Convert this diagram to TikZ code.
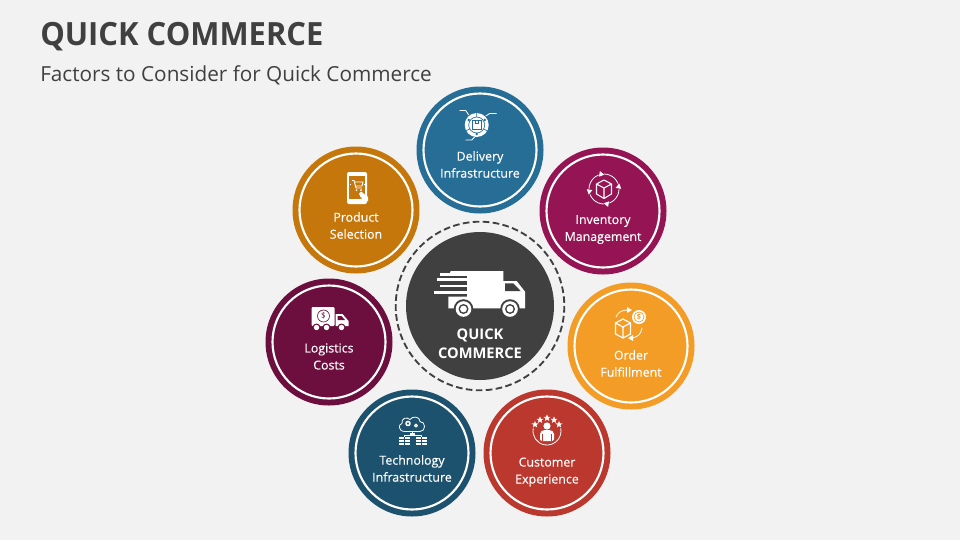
\documentclass[tikz,border=0pt]{standalone}
\usepackage{fontspec}
\setmainfont{Open Sans}
\newfontfamily\labfont[FakeBold=0.25]{Open Sans}
\newfontfamily\titlefont[FakeStretch=0.966]{Open Sans}
\usetikzlibrary{shapes.geometric}
\definecolor{bgc}{HTML}{F2F2F2}
\definecolor{dark}{HTML}{404040}
\definecolor{cdel}{HTML}{266E96}
\definecolor{cinv}{HTML}{951554}
\definecolor{cord}{HTML}{F39C26}
\definecolor{ccus}{HTML}{BA382D}
\definecolor{ctec}{HTML}{1D526F}
\definecolor{clog}{HTML}{6C0F3F}
\definecolor{cpro}{HTML}{C5770B}
\tikzset{
  x=0.75pt,y=-0.75pt,
  lab/.style={text=white,align=center,font=\fontsize{9.3pt}{12.75pt}\labfont,inner sep=0pt},
  ico/.style={draw=white,line width=0.75pt,line cap=round,line join=round},
  star5/.style={star,star points=5,star point ratio=2.4,fill=white,draw=none,minimum size=5.5pt,inner sep=0pt}
}
\newcommand{\disc}[3]{%
  \fill[#3] (#1,#2) circle (63.5);
  \draw[white,line width=1.6pt] (#1,#2) circle (56.5);}
\begin{document}
\begin{tikzpicture}
\useasboundingbox (0,0) rectangle (960,540);
\fill[bgc] (0,0) rectangle (960,540);
\node[anchor=west,text=dark,inner sep=0pt,font=\fontsize{24pt}{30pt}\titlefont\bfseries] (title) at (40,37) {QUICK COMMERCE};
\node[anchor=west,text=dark,inner sep=0pt,font=\fontsize{15.55pt}{18pt}\selectfont] (subtitle) at (40,75.5) {Factors to Consider for Quick Commerce};
% centre
\draw[dark,line width=1.4pt,dash pattern=on 5pt off 2.5pt] (480,306) circle (84.3);
\fill[dark] (480,306) circle (74);
% discs
\disc{480}{150}{cdel}
\disc{603}{211}{cinv}
\disc{631}{346}{cord}
\disc{547}{453}{ccus}
\disc{412}{453}{ctec}
\disc{329}{342}{clog}
\disc{356}{210}{cpro}
% labels
\node[lab] (ldel) at (480,164.5) {Delivery\\Infrastructure};
\node[lab] (linv) at (603,229.5) {Inventory\\Management};
\node[lab] (lord) at (631,363.5) {Order\\Fulfillment};
\node[lab] (lcus) at (547,472) {Customer\\Experience};
\node[lab] (ltec) at (412,468.5) {Technology\\Infrastructure};
\node[lab] (llog) at (329,356.5) {Logistics\\Costs};
\node[lab] (lpro) at (356,225.5) {Product\\Selection};
\node[lab,font=\fontsize{11pt}{14.2pt}\selectfont\bfseries] (lcen) at (480,344) {QUICK\\COMMERCE};
% central truck
\fill[white] (450.7,271) -- (503.3,271) -- (503.3,281) -- (516.7,281) -- (525,291.7) -- (525,308.3) -- (448.3,308.3) -- (448.3,296.7) -- (467,296.7) -- (467,273) -- (450,273) -- cycle;
\foreach \xa/\ya/\xb in {440/274.6/468, 436.7/279.5/468, 440/286/468, 434/292.5/468}
  {\draw[white,line width=2pt] (\xa,\ya) -- (\xb,\ya);}
\fill[dark] (505,283.3) -- (513.3,283.3) -- (520.7,291) -- (505,291) -- cycle;
\foreach \wx in {463.5,510}{
  \fill[dark] (\wx,309) circle (9.8);
  \fill[white] (\wx,309) circle (7.8);
  \fill[dark] (\wx,309) circle (5);
  \fill[white] (\wx,309) circle (3.4);}
% delivery icon
\begin{scope}[shift={(476.7,125)}]
  \fill[white] (0,0) circle (12);
  \draw[cdel,line width=0.5pt] (0,0) circle (8);
  \draw[cdel,line width=0.5pt] (0,-12)--(0,-8) (-11,6)--(-7,4) (11,6)--(7,4);
  \fill[white,draw=cdel,line width=0.5pt] (-4.5,-5) rectangle (4.5,4.5);
  \draw[cdel,line width=0.5pt] (-1.8,-5) -- (-1.8,-1.5) -- (1.8,-1.5) -- (1.8,-5);
  \foreach \p in {(8,-5),(-8,-5),(0,9)} {\fill[cdel] \p circle (1.3);}
  \draw[white,line width=0.6pt] (-8,-10) -- (-11,-14.5) -- (-17,-14.5);
  \draw[white,line width=0.6pt] (9,-9) -- (13,-11.5) -- (20,-11.5);
  \draw[white,line width=0.6pt] (-2,12) -- (-5,15) -- (-11,15);
\end{scope}
% inventory icon
\begin{scope}[shift={(604,189)}]
  \draw[ico,line width=0.6pt] (0,0) circle (15);
  \foreach \a in {80,170,260,350}{
    \fill[cinv] (\a:15) circle (3);
    \begin{scope}[shift={(\a:15)},rotate=\a+90]
      \fill[white] (3,0) -- (-2,2.8) -- (-2,-2.8) -- cycle;
    \end{scope}}
  \draw[ico,line width=0.8pt] (-7.5,-5) -- (0,-9) -- (7.5,-5) -- (7.5,5) -- (0,9.5) -- (-7.5,5) -- cycle (-7.5,-5) -- (0,-1) -- (7.5,-5) (0,-1) -- (0,9.5);
\end{scope}
% order icon
\begin{scope}[shift={(623,328)}]
  \draw[ico,line width=0.9pt] (-7.5,-5) -- (0,-9) -- (7.5,-5) -- (7.5,6) -- (0,10) -- (-7.5,6) -- cycle (-7.5,-5) -- (0,-1) -- (7.5,-5) (0,-1) -- (0,10);
  \fill[white] (16,-11) circle (7);
  \draw[cord,line width=0.5pt] (16,-11) circle (5);
  \node[text=cord,inner sep=0pt,font=\fontsize{5.5pt}{6pt}\selectfont\bfseries] (dord) at (16,-11) {\$};
  \draw[ico,line width=0.6pt] (-7,-11) .. controls (-5,-16) and (-1,-18) .. (5,-18);
  \fill[white] (9,-18) -- (4,-21) -- (4,-15) -- cycle;
  \draw[ico,line width=0.6pt] (19,0) .. controls (18,6) and (15,9) .. (9,10);
  \fill[white] (5,10) -- (10,7) -- (10,13) -- cycle;
\end{scope}
% customer icon
\begin{scope}[shift={(547,433)}]
  \draw[ico,line width=0.6pt] (-13.8,-4.4) arc[start angle=190,delta angle=-200,radius=14];
  \node[star5] (s1) at (-12,-8.5) {};
  \node[star5] (s2) at (-7,-13) {};
  \node[star5] (s3) at (0,-15) {};
  \node[star5] (s4) at (7,-13) {};
  \node[star5] (s5) at (12,-8.5) {};
  \fill[white] (0,-7) circle (3.6);
  \fill[white,rounded corners=1.5pt] (-7,8) -- (-7,-1) -- (-4,-3) -- (4,-3) -- (7,-1) -- (7,8) -- cycle;
  \draw[ccus,line width=0.4pt] (-4.5,1) -- (-4.5,8) (4.5,1) -- (4.5,8);
\end{scope}
% technology icon
\begin{scope}[shift={(412,424)}]
  \draw[ico,line width=0.6pt] (-7,7.5) .. controls (-14,7.5) and (-14,0) .. (-10,-0.5)
     .. controls (-11,-6) and (-5,-7.5) .. (-2,-4.5) .. controls (0,-8) and (8,-8) .. (8,-2.5)
     .. controls (14,-2.5) and (14,7.5) .. (8,7.5) -- cycle;
  \draw[ico,line width=1.2pt] (-4,-0.5) circle (2);
  \draw[ico,line width=0.9pt] (4,1.5) circle (1.4);
  \draw[ico,line width=0.6pt] (0,7.5) -- (0,11) (-7.5,13) -- (-7.5,11) -- (9.5,11) -- (9.5,13);
  \fill[white] (-2.5,8.5) rectangle (2.5,11.5);
  \foreach \sx in {-7.5,9.5}{
    \fill[white] (\sx-5.2,13) rectangle (\sx+5.2,21);
    \draw[ctec,line width=0.4pt] (\sx-5.2,15.7) -- (\sx+5.2,15.7) (\sx-5.2,18.3) -- (\sx+5.2,18.3) (\sx,13) -- (\sx,21);
  }
\end{scope}
% logistics icon
\begin{scope}[shift={(311.5,307)}]
  \fill[white,rounded corners=0.8pt] (0,0) rectangle (23,19);
  \draw[clog,line width=0.5pt] (12,9) circle (6);
  \node[text=clog,inner sep=0pt,font=\fontsize{6pt}{6pt}\selectfont] (dlog) at (12,9) {\$};
  \fill[white] (24,7) -- (31,7) -- (37,14) -- (37,19) -- (24,19) -- cycle;
  \fill[clog] (26,9) -- (30,9) -- (33.5,13) -- (26,13) -- cycle;
  \foreach \wx in {5,15,30}{
    \fill[clog] (\wx,20.5) circle (4);
    \fill[white] (\wx,20.5) circle (2.7);}
\end{scope}
% product icon
\begin{scope}[shift={(347,172)}]
  \fill[white,rounded corners=1.5pt] (0,0) rectangle (20,32);
  \fill[cpro] (2,4) rectangle (18,27);
  \draw[white,line width=0.7pt,line join=round] (5,8.5) -- (7,8.5) -- (9,16) -- (15,16) (7.5,10) -- (16,10) -- (15,14) -- (8.5,14);
  \fill[white] (9.5,18) circle (1) (14,18) circle (1);
  \draw[white,line width=0.5pt] (3,12.5) -- (4,12.5) (16.5,12.5) -- (17.5,12.5);
  \fill[white] (12,21.5) -- (14,19.5) -- (21,25) -- (21,29) -- (15,29) -- cycle;
  \fill[cpro] (14,26) circle (0.8);
\end{scope}
\end{tikzpicture}
\end{document}
